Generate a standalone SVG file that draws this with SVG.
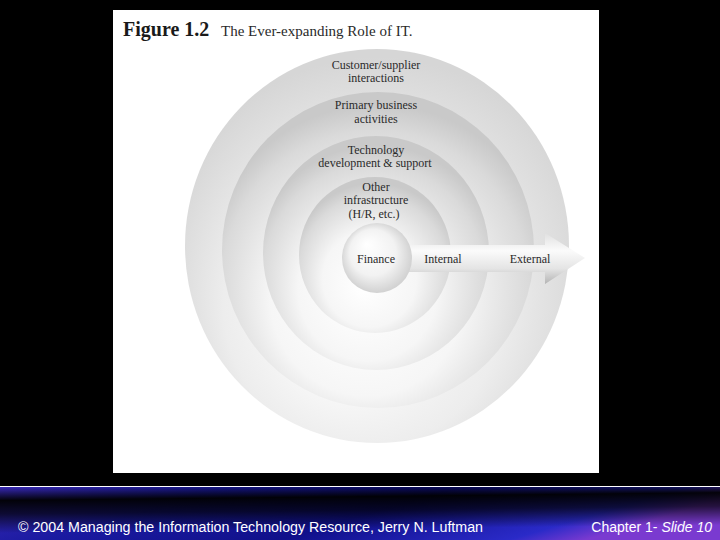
<svg xmlns="http://www.w3.org/2000/svg" width="720" height="540" viewBox="0 0 720 540">
<defs>
<radialGradient id="disk" cx="0.5" cy="0.6" r="0.56" fx="0.42" fy="0.72">
<stop offset="0" stop-color="#ffffff"/>
<stop offset="0.55" stop-color="#f6f6f6"/>
<stop offset="0.88" stop-color="#dadada"/>
<stop offset="1" stop-color="#c9c9c9"/>
</radialGradient>
<radialGradient id="outer" cx="0.5" cy="0.58" r="0.56" fx="0.4" fy="0.78">
<stop offset="0" stop-color="#ffffff"/>
<stop offset="0.65" stop-color="#ededed"/>
<stop offset="1" stop-color="#d6d6d6"/>
</radialGradient>
<radialGradient id="sphere" cx="0.5" cy="0.5" r="0.55" fx="0.35" fy="0.3">
<stop offset="0" stop-color="#ffffff"/>
<stop offset="0.6" stop-color="#f2f2f2"/>
<stop offset="1" stop-color="#cbcbcb"/>
</radialGradient>
<linearGradient id="arrowg" x1="0" y1="0" x2="0" y2="1">
<stop offset="0" stop-color="#e0e0e0"/>
<stop offset="0.35" stop-color="#fbfbfb"/>
<stop offset="0.7" stop-color="#e4e4e4"/>
<stop offset="1" stop-color="#b4b4b4"/>
</linearGradient>
<linearGradient id="bar" x1="0" y1="0" x2="1" y2="0.25">
<stop offset="0" stop-color="#3a2ab8"/>
<stop offset="0.3" stop-color="#1a1aa0"/>
<stop offset="0.6" stop-color="#10108a"/>
<stop offset="0.9" stop-color="#2a2ac8"/>
<stop offset="1" stop-color="#7a3ad0"/>
</linearGradient>
<linearGradient id="streak" x1="0" y1="0" x2="0.15" y2="1">
<stop offset="0" stop-color="#000" stop-opacity="0"/>
<stop offset="0.25" stop-color="#000" stop-opacity="0.95"/>
<stop offset="0.5" stop-color="#000" stop-opacity="0.7"/>
<stop offset="0.85" stop-color="#000" stop-opacity="0"/>
</linearGradient>
</defs>
<style>
.lbl{font-family:"Liberation Serif","Times New Roman",serif;font-size:12px;fill:#2a2a2a;text-anchor:middle}
.foot{font-family:"Liberation Sans",Arial,sans-serif;font-size:14px;fill:#ffffff}
</style>
<rect x="0" y="0" width="720" height="540" fill="#000000"/>
<g id="panel">
<rect x="113" y="10" width="486" height="463" fill="#ffffff"/>
<text x="123" y="36" font-family="'Liberation Serif','Times New Roman',serif" font-size="20" font-weight="bold" fill="#1a1a1a">Figure 1.2</text>
<text x="221" y="36" font-family="'Liberation Serif','Times New Roman',serif" font-size="15" fill="#2a2a2a">The Ever-expanding Role of IT.</text>
</g>
<g id="ring-customer">
<ellipse cx="377" cy="246" rx="192" ry="197" fill="url(#outer)"/>
<text class="lbl" x="376" y="69">Customer/supplier</text>
<text class="lbl" x="376" y="82">interactions</text>
</g>
<g id="ring-primary">
<ellipse cx="378" cy="250" rx="156" ry="158" fill="url(#disk)"/>
<text class="lbl" x="376" y="109">Primary business</text>
<text class="lbl" x="376" y="123">activities</text>
</g>
<g id="ring-technology">
<ellipse cx="376" cy="253" rx="113" ry="117" fill="url(#disk)"/>
<text class="lbl" x="376" y="154">Technology</text>
<text class="lbl" x="375" y="167">development &amp; support</text>
</g>
<g id="ring-other">
<ellipse cx="375" cy="255" rx="76" ry="78" fill="url(#disk)"/>
<text class="lbl" x="376" y="191">Other</text>
<text class="lbl" x="376" y="204">infrastructure</text>
<text class="lbl" x="374" y="218">(H/R, etc.)</text>
</g>
<g id="connectors">
<path d="M395,245 L545,245 L545,233 L585,258 L545,284 L545,272 L395,272 Z" fill="url(#arrowg)"/>
<text class="lbl" x="443" y="263">Internal</text>
<text class="lbl" x="530" y="263">External</text>
</g>
<g id="finance">
<circle cx="377" cy="258" r="35" fill="url(#sphere)"/>
<text class="lbl" x="376" y="263">Finance</text>
</g>
<g id="footer">
<rect x="0" y="487" width="720" height="53" fill="url(#bar)"/>
<rect x="0" y="487" width="720" height="53" fill="url(#streak)"/>
<line x1="0" y1="486.5" x2="720" y2="486.5" stroke="#ffffff" stroke-width="1"/>
<text class="foot" x="18" y="532" textLength="465" lengthAdjust="spacingAndGlyphs">© 2004 Managing the Information Technology Resource,  Jerry N. Luftman</text>
<text class="foot" x="712" y="532" text-anchor="end">Chapter 1- <tspan font-style="italic">Slide 10</tspan></text>
</g>
</svg>
